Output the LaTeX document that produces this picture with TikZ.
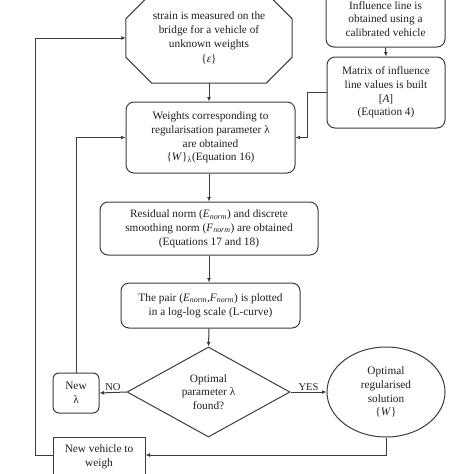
\documentclass[tikz,border=0pt]{standalone}
\usepackage{fontspec}
\setmainfont{Liberation Serif}
\usetikzlibrary{arrows.meta,shapes.geometric,calc}
\definecolor{lc}{HTML}{3C3C3C}
\definecolor{tc}{HTML}{1E1E1E}
\newcommand{\iv}[1]{\textit{#1}}
\newcommand{\nsub}[1]{\textit{#1}\textsubscript{\textit{norm}}}
\begin{document}
\begin{tikzpicture}[x=1pt,y=-1pt,
  font=\fontsize{11.3}{13.8}\selectfont, text=tc,
  every node/.style={align=center, inner sep=0pt},
  box/.style={draw=lc, line width=1pt, rounded corners=8pt},
  sqbox/.style={draw=lc, line width=1pt},
  arr/.style={draw=lc, line width=1pt, -{Latex[length=4.5pt,width=4pt]}},
  ln/.style={draw=lc, line width=1pt},
  lbl/.style={font=\fontsize{10.5}{12}\selectfont}]
\useasboundingbox (0,0) rectangle (474,474);
\clip (0,0) rectangle (474,474);

% octagon
\node (oct) [minimum width=166pt, minimum height=90pt] at (209,38)
  {strain is measured on the\\ bridge for a vehicle of\\ unknown weights\\[2pt] \{\iv{ε}\}};
\draw[ln] ([xshift=26pt]oct.north west) -- ([xshift=-26pt]oct.north east)
  -- ([yshift=-26pt]oct.north east) -- ([yshift=26pt]oct.south east)
  -- ([xshift=-26pt]oct.south east) -- ([xshift=26pt]oct.south west)
  -- ([yshift=26pt]oct.south west) -- ([yshift=-26pt]oct.north west) -- cycle;

\node (inf) [box, minimum width=119pt, minimum height=56pt] at (385.5,19)
  {Influence line is\\ obtained using a\\ calibrated vehicle};
\node (mat) [box, minimum width=118pt, minimum height=71pt] at (386,92.5)
  {Matrix of influence\\ line values is built\\ {[}\iv{A}{]}\\ (Equation 4)};

\node (w) [box, minimum width=169pt, minimum height=71pt] at (210.5,137.5)
  {Weights corresponding to\\ regularisation parameter λ\\ are obtained\\ \{\iv{W}\}\textsubscript{λ}(Equation 16)};

\node (res) [box, minimum width=218pt, minimum height=53pt] at (209,228.5)
  {Residual norm (\nsub{E}) and discrete\\ smoothing norm (\nsub{F}) are obtained\\ (Equations 17 and 18)};

\node (pair) [box, minimum width=179pt, minimum height=45pt] at (210.5,305.5)
  {The pair (\nsub{E},\nsub{F}) is plotted\\ in a log-log scale (L-curve)};

\node (dia) [diamond, draw=lc, line width=1pt, aspect=1.8, minimum width=163pt, minimum height=90pt] at (208.5,392)
  {Optimal\\ parameter λ\\ found?};

\node (nl) [box, minimum width=46pt, minimum height=40pt, rounded corners=6pt] at (76,393)
  {New\\ λ};

\node (sol) [ellipse, draw=lc, line width=1pt, minimum width=118pt, minimum height=90pt] at (386,392)
  {Optimal\\ regularised\\ solution\\ \{\iv{W}\}};

\node (nv) [sqbox, minimum width=92pt, minimum height=40pt] at (99,457)
  {New vehicle to\\ weigh};

% connectors
\draw[arr] (oct.south) -- (oct.south |- w.north);
\draw[arr] (inf.south) -- (mat.north);
\draw[arr] (mat.west) -- ++(-19,0) |- (w.east);
\draw[arr] (oct.south |- w.south) -- (oct.south |- res.north);
\draw[arr] (oct.south |- res.south) -- (oct.south |- pair.north);
\draw[arr] (oct.south |- pair.south) -- (dia.north);
\draw[arr] (dia.west) -- (nl.east) node[lbl, midway, above=1pt] {NO};
\draw[arr] (dia.east) -- (sol.west) node[lbl, midway, above=1pt] {YES};
\draw[arr] (nl.north) |- (w.west);
\draw[arr] (sol.south) |- ([yshift=2pt]nv.east);
\draw[arr] ([yshift=2pt]nv.west) -- ++(-17,0) |- (oct.west);
\end{tikzpicture}
\end{document}
